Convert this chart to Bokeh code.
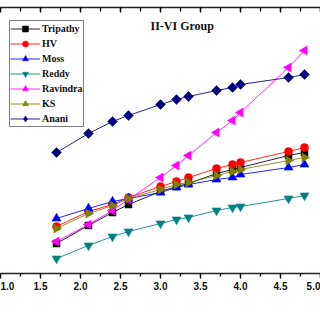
import math
from bokeh.plotting import figure
from bokeh.models import (Legend, LegendItem, LinearAxis, SingleIntervalTicker,
                          Label, Range1d, NumeralTickFormatter)
from bokeh.embed import file_html
from bokeh.resources import INLINE

# Band gap values (eV)
eg = [1.7, 2.1, 2.4, 2.6, 3.0, 3.2, 3.35, 3.7, 3.9, 4.0, 4.6, 4.8]

# Series values (arbitrary units)
tripathy = [3.0, 4.8, 6.1, 6.9, 8.2, 8.7, 9.0, 10.0, 10.4, 10.6, 11.8, 12.1]
hv = [4.7, 6.2, 6.9, 7.6, 8.7, 9.2, 9.6, 10.5, 10.9, 11.1, 12.2, 12.6]
moss = [5.5, 6.5, 7.2, 7.5, 8.1, 8.6, 8.9, 9.4, 9.6, 9.9, 10.6, 10.9]
reddy = [1.5, 2.8, 3.7, 4.2, 5.0, 5.4, 5.6, 6.3, 6.6, 6.7, 7.5, 7.8]
ravindra = [3.2, 4.9, 6.3, 7.4, 9.6, 10.8, 11.8, 14.1, 15.3, 16.1, 20.6, 22.3]
ks = [4.5, 6.0, 6.8, 7.5, 8.4, 8.9, 9.1, 9.8, 10.2, 10.4, 11.3, 11.6]
anani = [12.1, 14.0, 15.2, 15.8, 16.9, 17.4, 17.7, 18.3, 18.6, 18.9, 19.6, 19.9]

names = ["Tripathy", "HV", "Moss", "Reddy", "Ravindra", "KS", "Anani"]
series = [tripathy, hv, moss, reddy, ravindra, ks, anani]

# styles: (color, marker, size, angle, legend marker)
styles = [
    ("#000000", "square", 7, 0.0, "square"),
    ("#FF0000", "circle", 8, 0.0, "circle"),
    ("#0000FF", "triangle", 9, 0.0, "triangle"),
    ("#008080", "inverted_triangle", 9, 0.0, "inverted_triangle"),
    ("#FF00FF", "triangle", 9, math.pi / 2, "triangle"),
    ("#808000", "triangle", 9, -math.pi / 2, "triangle"),
    ("#000080", "square", 7, math.pi / 4, "diamond"),
]

p = figure(width=320, height=320, output_backend="svg", toolbar_location=None,
           x_range=Range1d(1.0, 5.0), y_range=Range1d(0, 26.6),
           x_axis_location="below", y_axis_location=None,
           min_border_left=0, min_border_right=0, min_border_top=7,
           min_border_bottom=47)
p.outline_line_color = None
p.xgrid.visible = False
p.ygrid.visible = False
p.background_fill_color = "white"
p.border_fill_color = "white"

xa = p.xaxis[0]
xa.ticker = SingleIntervalTicker(interval=0.5, num_minor_ticks=2)
xa.formatter = NumeralTickFormatter(format="0.0")
xa.axis_line_width = 1.5
xa.axis_line_color = "#222222"
xa.major_tick_out = 5
xa.major_tick_in = 0
xa.minor_tick_out = 3
xa.minor_tick_in = 0
xa.major_tick_line_width = 1.3
xa.minor_tick_line_width = 1.3
xa.major_label_text_font = "Liberation Sans"
xa.major_label_text_font_style = "bold"
xa.major_label_text_font_size = "10px"
xa.major_label_text_color = "#111111"
xa.major_label_standoff = 3

top = LinearAxis(ticker=SingleIntervalTicker(interval=0.5, num_minor_ticks=2))
top.axis_line_width = 1.5
top.axis_line_color = "#222222"
top.major_tick_out = 0
top.major_tick_in = 5
top.minor_tick_out = 0
top.minor_tick_in = 4
top.major_tick_line_width = 1.3
top.minor_tick_line_width = 1.3
top.major_label_text_color = None
top.major_label_standoff = 0
p.add_layout(top, "above")

items = []
for name, ys, (col, mk, sz, ang, lmk) in zip(names, series, styles):
    lr = p.line(eg, ys, line_color=col, line_width=1, line_alpha=0.85)
    lg = None
    if lmk != mk:
        # glyph used for the legend, drawn underneath the plotted markers
        lg = p.scatter(eg, ys, marker=lmk, size=sz - 1, fill_color=col,
                       line_color=col, line_width=0.5)
    sr = p.scatter(eg, ys, marker=mk, size=sz, angle=ang, fill_color=col,
                   line_color=col, line_width=0.5)
    items.append(LegendItem(label=name, renderers=[lr, lg if lg else sr]))

legend = Legend(items=items, location=(9, 146), margin=0, padding=0,
                spacing=0, glyph_width=30, glyph_height=15, label_height=15,
                label_width=41, label_standoff=2, border_line_color="black",
                border_line_width=1, background_fill_color="white",
                background_fill_alpha=1.0,
                label_text_font="Liberation Serif",
                label_text_font_style="bold", label_text_font_size="10px",
                label_text_color="#111111")
p.add_layout(legend, "center")

title = Label(x=150, y=248, x_units="screen", y_units="screen",
              text="II-VI Group", text_font="Liberation Serif",
              text_font_style="bold", text_font_size="12px",
              text_color="#111111", text_baseline="alphabetic",
              text_align="left")
p.add_layout(title)

xl1 = Label(x=160, y=-40, x_units="screen", y_units="screen", text="E",
            text_font="Liberation Serif", text_font_style="bold",
            text_font_size="13px", text_color="#111111",
            text_baseline="alphabetic", text_align="left")
xl2 = Label(x=168, y=-43, x_units="screen", y_units="screen", text="g",
            text_font="Liberation Serif", text_font_style="bold",
            text_font_size="7px", text_color="#111111",
            text_baseline="alphabetic", text_align="left")
xl3 = Label(x=180, y=-40, x_units="screen", y_units="screen", text="[eV]",
            text_font="Liberation Serif", text_font_style="bold",
            text_font_size="13px", text_color="#111111",
            text_baseline="alphabetic", text_align="left")
for l in (xl1, xl2, xl3):
    p.add_layout(l)

open("out.html", "w").write(file_html(p, INLINE))
